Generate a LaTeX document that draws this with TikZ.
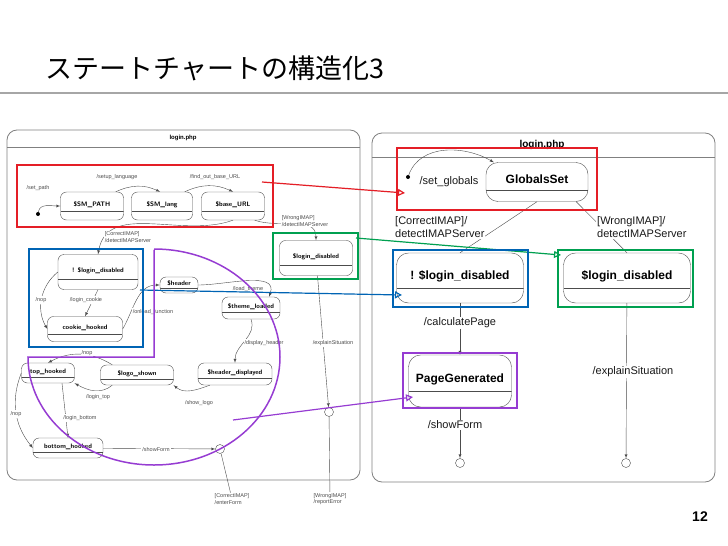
\documentclass[tikz,border=0pt]{standalone}
\usepackage{fontspec}
\setmainfont{Liberation Sans}
\newfontfamily\jpfont{Noto Sans CJK JP}
\usetikzlibrary{calc,arrows.meta}

\tikzset{
  rise/.code={\def\staterise{#1}},
  state/.style={draw=gray!60!black, rounded corners=6pt, inner sep=0pt, rise=3pt,
    font=\sffamily\bfseries\fontsize{6.5}{7}\selectfont,
    execute at begin node={\raise\staterise\hbox\bgroup}, execute at end node={\egroup},
    path picture={\draw[gray!60!black]
      ($(path picture bounding box.south west)!0.3!(path picture bounding box.north west)$) --
      ($(path picture bounding box.south east)!0.3!(path picture bounding box.north east)$);}},
  bigstate/.style={state, rounded corners=12pt, rise=6pt, font=\bfseries\fontsize{12}{14}\selectfont},
  lab/.style={font=\fontsize{5.5}{6.5}\selectfont, text=gray!60!black, inner sep=1pt, fill=white},
  biglab/.style={font=\fontsize{11}{13}\selectfont, text=gray!20!black, inner sep=1pt, fill=white, align=left},
  tr/.style={draw=gray!60!black, ->, >=latex},
  init/.style={circle, fill=black, minimum size=4pt, inner sep=0pt},
  fin/.style={circle, draw=gray!60!black, fill=white, minimum size=9pt, inner sep=0pt,
    path picture={\fill (path picture bounding box.center) circle (2.4pt);}},
  chartframe/.style={draw=gray, rounded corners=10pt, line width=0.8pt},
  hilite/.style={line width=1.5pt},
  pointer/.style={line width=1.2pt, -{Triangle[open,length=7pt,width=7pt]}}
}
\definecolor{markred}{RGB}{228,30,38}
\definecolor{markgreen}{RGB}{0,160,80}
\definecolor{markblue}{RGB}{0,100,180}
\definecolor{markpurple}{RGB}{150,60,210}

\begin{document}
\begin{tikzpicture}[x=1pt,y=-1pt]
  \useasboundingbox (0,0) rectangle (728,546);

  % title
  \node[anchor=west, font=\jpfont\fontsize{27}{30}\selectfont] (title) at (42,68) {ステートチャートの構造化3};
  \draw[gray!70, line width=2.5pt] (0,93) -- (728,93);
  \node[font=\bfseries\fontsize{14}{16}\selectfont] (page) at (700,517) {12};

  % left statechart
  \draw[chartframe] (7,130) rectangle (360,480);
  \draw[gray] (7,147) -- (360,147);
  \node[font=\bfseries\fontsize{6}{7}\selectfont] (ltitle) at (183,138) {login.php};

  \node[state, minimum width=63pt, minimum height=28pt] (smpath) at (92,206) {\$SM\_PATH};
  \node[state, minimum width=61pt, minimum height=28pt] (smlang) at (162,206) {\$SM\_lang};
  \node[state, minimum width=63pt, minimum height=28pt] (baseurl) at (233,206) {\$base\_URL};
  \node[state, minimum width=73pt, minimum height=35pt] (logindisA) at (316,258) {\$login\_disabled};
  \node[state, minimum width=80pt, minimum height=35pt] (notloginA) at (98,272) {! \$login\_disabled};
  \node[state, minimum width=38pt, minimum height=16pt] (header) at (179,285) {\$header};
  \node[state, minimum width=58pt, minimum height=22pt] (theme) at (251,308) {\$theme\_loaded};
  \node[state, minimum width=75pt, minimum height=25pt] (cookie) at (85,329) {cookie\_hooked};
  \node[state, minimum width=53pt, minimum height=20pt] (top) at (48,373) {top\_hooked};
  \node[state, minimum width=73pt, minimum height=20pt] (logo) at (137,375) {\$logo\_shown};
  \node[state, minimum width=74pt, minimum height=22pt] (headdisp) at (235,374) {\$header\_displayed};
  \node[state, minimum width=70pt, minimum height=20pt] (bottom) at (68,448) {bottom\_hooked};

  \node[init] (initA) at (38,214) {};
  \node[fin] (finA) at (220,449) {};
  \node[fin] (finB) at (329,412) {};
  \node[lab, align=left] (enterA) at (232,499) {[CorrectIMAP]\\/enterForm};
  \node[lab, align=left] (errorA) at (330,499) {[WrongIMAP]\\/reportError};

  \draw[tr] (initA) to[out=80,in=180] (smpath.west);
  \draw[tr] ([xshift=-8pt]smpath.north east) to[bend left=25] ([xshift=-2pt]smlang.north);
  \draw[tr] ([xshift=-8pt]smlang.north east) to[bend left=25] (baseurl.north);
  \draw[tr] ([xshift=-10pt]baseurl.south east) to[out=-20,in=90] (logindisA.north);
  \draw[tr] (baseurl.south) to[out=200,in=80] (notloginA.north);
  \draw[tr] (notloginA.west) to[bend right=40] (cookie.west);
  \draw[tr] (notloginA.south) -- (cookie.north);
  \draw[tr] (cookie.east) to[out=60,in=180] (header.west);
  \draw[tr] (header.east) to[out=0,in=70] ([xshift=18pt]theme.north);
  \draw[tr] (theme.south) to[out=-70,in=90] (headdisp.north);
  \draw[tr] ([xshift=12pt]headdisp.south west) to[out=200,in=-40] (logo.south east);
  \draw[tr] ([xshift=12pt]logo.north west) to[bend right=30] (top.north);
  \draw[tr] ([xshift=12pt]logo.south west) to[out=220,in=-30] (top.south east);
  \draw[tr] ([xshift=14pt]top.south) -- (bottom.north);
  \draw[tr] (top.west) to[bend right=30] (bottom.west);
  \draw[tr] (bottom) -- (finA);
  \draw[tr] (logindisA) -- (finB);
  \draw[gray!60!black] (finA) -- (enterA);
  \draw[gray!60!black] (finB) -- (errorA);

  \node[lab] (lsetpath) at (38,188) {/set\_path};
  \node[lab] (lsetup) at (117,177) {/setup\_language};
  \node[lab] (lfind) at (215,177) {/find\_out\_base\_URL};
  \node[lab, align=left] (lwrongA) at (305,221) {[WrongIMAP]\\/detectIMAPServer};
  \node[lab, align=left] (lcorrectA) at (128,237) {[CorrectIMAP]\\/detectIMAPServer};
  \node[lab] (lnopA) at (41,300) {/nop};
  \node[lab] (lcookie) at (86,300) {/login\_cookie};
  \node[lab] (lonload) at (153,312) {/onload\_function};
  \node[lab] (ltheme) at (248,289) {/load\_theme};
  \node[lab] (ldisplay) at (264,343) {/display\_header};
  \node[lab] (lexplainA) at (333,343) {/explainSituation};
  \node[lab] (lnopB) at (87,353) {/nop};
  \node[lab] (llogintop) at (98,397) {/login\_top};
  \node[lab] (lshowlogo) at (199,403) {/show\_logo};
  \node[lab] (lnopC) at (16,414) {/nop};
  \node[lab] (lloginbottom) at (80,418) {/login\_bottom};
  \node[lab] (lshowformA) at (156,450) {/showForm};

  % right statechart
  \draw[chartframe] (372,133) rectangle (715,482);
  \draw[gray] (372,157) -- (715,157);
  \node[font=\bfseries\fontsize{10}{12}\selectfont] (rtitle) at (542,145) {login.php};

  \node[bigstate, minimum width=102pt, minimum height=39pt] (globals) at (537,182) {GlobalsSet};
  \node[bigstate, minimum width=127pt, minimum height=50pt] (notloginB) at (460,278) {! \$login\_disabled};
  \node[bigstate, minimum width=127pt, minimum height=50pt] (logindisB) at (627,278) {\$login\_disabled};
  \node[bigstate, minimum width=103pt, minimum height=52pt] (pagegen) at (460,381) {PageGenerated};
  \node[init] (initB) at (408,177) {};
  \node[fin] (finC) at (460,463) {};
  \node[fin] (finD) at (626,463) {};

  \draw[tr] (initB) to[out=70,in=150] ([xshift=8pt]globals.north west);
  \draw[gray!60!black] (globals.south) -- (notloginB.north);
  \draw[gray!60!black] ([xshift=-12pt]globals.south east) -- (logindisB.north);
  \draw[tr] (notloginB) -- (pagegen);
  \draw[tr] (pagegen) -- (finC);
  \draw[tr] (logindisB) -- (finD);

  \node[biglab] (lsetglobals) at (449,182) {/set\_globals};
  \node[biglab, anchor=west] (lcorrectB) at (394,227) {[CorrectIMAP]/\\detectIMAPServer};
  \node[biglab, anchor=west] (lwrongB) at (596,227) {[WrongIMAP]/\\detectIMAPServer};
  \node[biglab] (lcalc) at (460,323) {/calculatePage};
  \node[biglab] (lshowformB) at (455,425) {/showForm};
  \node[biglab] (lexplainB) at (633,372) {/explainSituation};

  % highlights
  \draw[hilite, markred] (17,165) rectangle (273,227);
  \draw[hilite, markred] (397,148) rectangle (597,210);
  \draw[pointer, markred] (262,182) -- (405,193);
  \draw[hilite, markgreen] (273,233) rectangle (358,279);
  \draw[hilite, markgreen] (558,250) rectangle (693,307);
  \draw[pointer, markgreen] (356,238) -- (561,255);
  \draw[hilite, markblue] (29,249) rectangle (143,347);
  \draw[hilite, markblue] (393,250) rectangle (528,307);
  \draw[pointer, markblue] (140,290) -- (402,295);
  \draw[hilite, markpurple] (403,353) rectangle (517,408);
  \draw[hilite, markpurple] (154,250) -- (154,357) -- (28,357)
    arc[start angle=180, end angle=450, x radius=126pt, y radius=108pt];
  \draw[pointer, markpurple] (233,420) -- (413,397);
\end{tikzpicture}
\end{document}
